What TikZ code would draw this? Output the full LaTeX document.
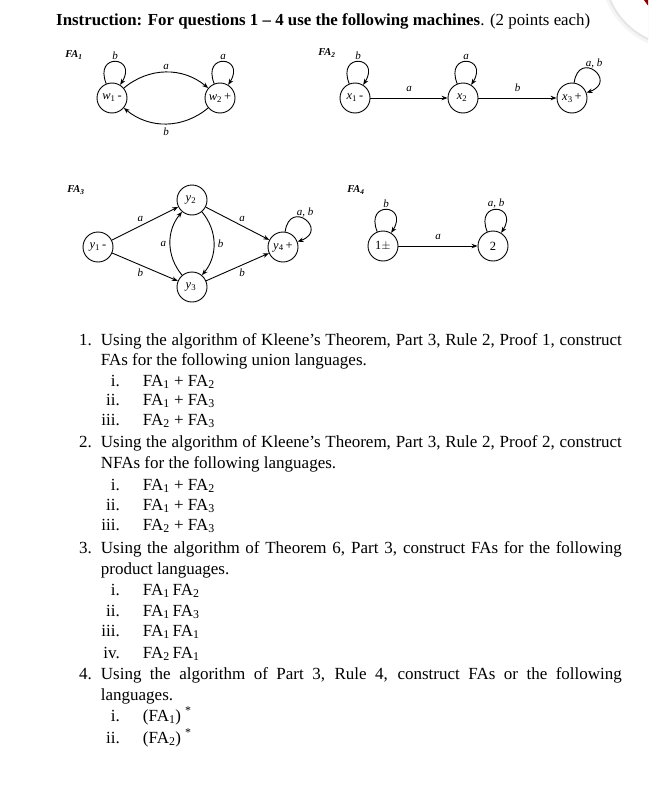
\documentclass[tikz,border=0pt]{standalone}
\usepackage{fontspec}
\setmainfont{Liberation Serif}
\usetikzlibrary{arrows.meta}
\newcommand\stl[3]{\textit{#1}\textsubscript{#2}\,#3}
\begin{document}
\begin{tikzpicture}[x=1pt,y=1pt,
  state/.style={circle,draw,line width=0.9pt,minimum size=30pt,inner sep=0pt,font=\fontsize{12.5}{13}\selectfont},
  tr/.style={-{Stealth[length=6pt,width=4.5pt]},line width=0.9pt},
  lbl/.style={font=\fontsize{11}{12}\selectfont\itshape,inner sep=1.5pt},
  fal/.style={font=\fontsize{10.5}{12}\selectfont\bfseries\itshape,inner sep=0pt},
  txt/.style={font=\fontsize{17}{20}\selectfont,inner sep=0pt,anchor=base west},
  num/.style={font=\fontsize{17}{20}\selectfont,inner sep=0pt,anchor=base east},
  lp/.style={looseness=1,min distance=34pt}
]
\useasboundingbox (0,0) rectangle (648,-808);

% overlay in the top-right corner
\begin{scope}
  \clip (0,0) rectangle (648,-808);
  \fill[black!4] (680,30) circle (80);
  \fill[black!10] (680,30) circle (77);
  \fill[white] (680,30) circle (75);
  \fill[red!55!black] (690,30) circle (55);
\end{scope}

% title
\node[txt,font=\fontsize{16.85}{20}\selectfont] (title) at (56,-25.5) {\textbf{Instruction: For questions 1 -- 4 use the following machines}. (2 points each)};

% ---------- FA1 ----------
\node[fal] (fa1) at (74,-55) {FA\textsubscript{1}};
\node[state] (w1) at (112,-98) {\stl{w}{1}{-}};
\node[state] (w2) at (220,-98) {\stl{w}{2}{+}};
\draw[tr] (w1) to[out=112,in=58,lp] node[lbl,above] (lw1) {b} (w1);
\draw[tr] (w2) to[out=112,in=58,lp] node[lbl,above] (lw2) {a} (w2);
\draw[tr] (w1) to[bend left=40] node[lbl,above=1pt] (la1) {a} (w2);
\draw[tr] (w2) to[bend left=40] node[lbl,below=2pt] (lb1) {b} (w1);

% ---------- FA2 ----------
\node[fal] (fa2) at (327,-53) {FA\textsubscript{2}};
\node[state] (x1) at (355,-98) {\stl{x}{1}{-}};
\node[state] (x2) at (463,-98) {\stl{x}{2}{}};
\node[state] (x3) at (572,-98) {\stl{x}{3}{+}};
\draw[tr] (x1) to[out=112,in=58,lp] node[lbl,above] (lx1) {b} (x1);
\draw[tr] (x2) to[out=112,in=58,lp] node[lbl,above] (lx2) {a} (x2);
\draw[tr] (x3) to[out=82,in=20,lp] node[lbl,above=1pt] (lx3) {a, b} (x3);
\draw[tr] (x1) -- node[lbl,above=4pt] (lx12) {a} (x2);
\draw[tr] (x2) -- node[lbl,above=4pt] (lx23) {b} (x3);

% ---------- FA3 ----------
\node[fal] (fa3) at (76,-190) {FA\textsubscript{3}};
\node[state] (y1) at (98,-247) {\stl{y}{1}{-}};
\node[state] (y2) at (192,-200) {\stl{y}{2}{}};
\node[state] (y3) at (192,-287) {\stl{y}{3}{}};
\node[state] (y4) at (283,-247) {\stl{y}{4}{+}};
\draw[tr] (y1) -- node[lbl,above left=0pt] (ly12) {a} (y2);
\draw[tr] (y1) -- node[lbl,below left=0pt] (ly13) {b} (y3);
\draw[tr] (y2) -- node[lbl,above right=0pt] (ly24) {a} (y4);
\draw[tr] (y3) -- node[lbl,below right=0pt] (ly34) {b} (y4);
\draw[tr] (y3) to[bend left=40] node[lbl,left=2pt] (ly32) {a} (y2);
\draw[tr] (y2) to[bend left=40] node[lbl,right=2pt] (ly23) {b} (y3);
\draw[tr] (y4) to[out=82,in=20,lp] node[lbl,above=1pt] (ly4) {a, b} (y4);

% ---------- FA4 ----------
\node[fal] (fa4) at (356,-190) {FA\textsubscript{4}};
\node[state] (s1) at (383,-246) {1$\pm$};
\node[state] (s2) at (493,-246) {2};
\draw[tr] (s1) to[out=112,in=58,lp] node[lbl,above] (ls1) {b} (s1);
\draw[tr] (s2) to[out=112,in=58,lp] node[lbl,above] (ls2) {a, b} (s2);
\draw[tr] (s1) -- node[lbl,above=4pt] (ls12) {a} (s2);

% ---------- questions ----------
\node[txt] (n1) at (79,-345) {1.};
\node[txt] (q1a) at (100.7,-345) {\makebox[521pt][s]{Using the algorithm of Kleene's Theorem, Part 3, Rule 2, Proof 1, construct}};
\node[txt] (q1b) at (100.7,-365) {FAs for the following union languages.};
\node[num] (r1i) at (120,-386) {i.};
\node[txt] (e1i) at (142.7,-386) {FA\textsubscript{1} + FA\textsubscript{2}};
\node[num] (r1ii) at (120,-405) {ii.};
\node[txt] (e1ii) at (142.7,-405) {FA\textsubscript{1} + FA\textsubscript{3}};
\node[num] (r1iii) at (120,-425) {iii.};
\node[txt] (e1iii) at (142.7,-425) {FA\textsubscript{2} + FA\textsubscript{3}};

\node[txt] (n2) at (79,-447) {2.};
\node[txt] (q2a) at (100.7,-447) {\makebox[521pt][s]{Using the algorithm of Kleene's Theorem, Part 3, Rule 2, Proof 2, construct}};
\node[txt] (q2b) at (100.7,-468) {NFAs for the following languages.};
\node[num] (r2i) at (120,-490) {i.};
\node[txt] (e2i) at (142.7,-490) {FA\textsubscript{1} + FA\textsubscript{2}};
\node[num] (r2ii) at (120,-510) {ii.};
\node[txt] (e2ii) at (142.7,-510) {FA\textsubscript{1} + FA\textsubscript{3}};
\node[num] (r2iii) at (120,-530) {iii.};
\node[txt] (e2iii) at (142.7,-530) {FA\textsubscript{2} + FA\textsubscript{3}};

\node[txt] (n3) at (79,-553) {3.};
\node[txt] (q3a) at (100.7,-553) {\makebox[521pt][s]{Using the algorithm of Theorem 6, Part 3, construct FAs for the following}};
\node[txt] (q3b) at (100.7,-574) {product languages.};
\node[num] (r3i) at (120,-595) {i.};
\node[txt] (e3i) at (142.7,-595) {FA\textsubscript{1}\,FA\textsubscript{2}};
\node[num] (r3ii) at (120,-616) {ii.};
\node[txt] (e3ii) at (142.7,-616) {FA\textsubscript{1}\,FA\textsubscript{3}};
\node[num] (r3iii) at (120,-636) {iii.};
\node[txt] (e3iii) at (142.7,-636) {FA\textsubscript{1}\,FA\textsubscript{1}};
\node[num] (r3iv) at (120,-658) {iv.};
\node[txt] (e3iv) at (142.7,-658) {FA\textsubscript{2}\,FA\textsubscript{1}};

\node[txt] (n4) at (79,-679) {4.};
\node[txt] (q4a) at (100.7,-679) {\makebox[521pt][s]{Using the algorithm of Part 3, Rule 4, construct FAs or the following}};
\node[txt] (q4b) at (100.7,-700) {languages.};
\node[num] (r4i) at (120,-721) {i.};
\node[txt] (e4i) at (142.7,-721) {(FA\textsubscript{1})\hspace{4pt}\textsuperscript{*}};
\node[num] (r4ii) at (120,-743) {ii.};
\node[txt] (e4ii) at (142.7,-743) {(FA\textsubscript{2})\hspace{4pt}\textsuperscript{*}};
\end{tikzpicture}
\end{document}
